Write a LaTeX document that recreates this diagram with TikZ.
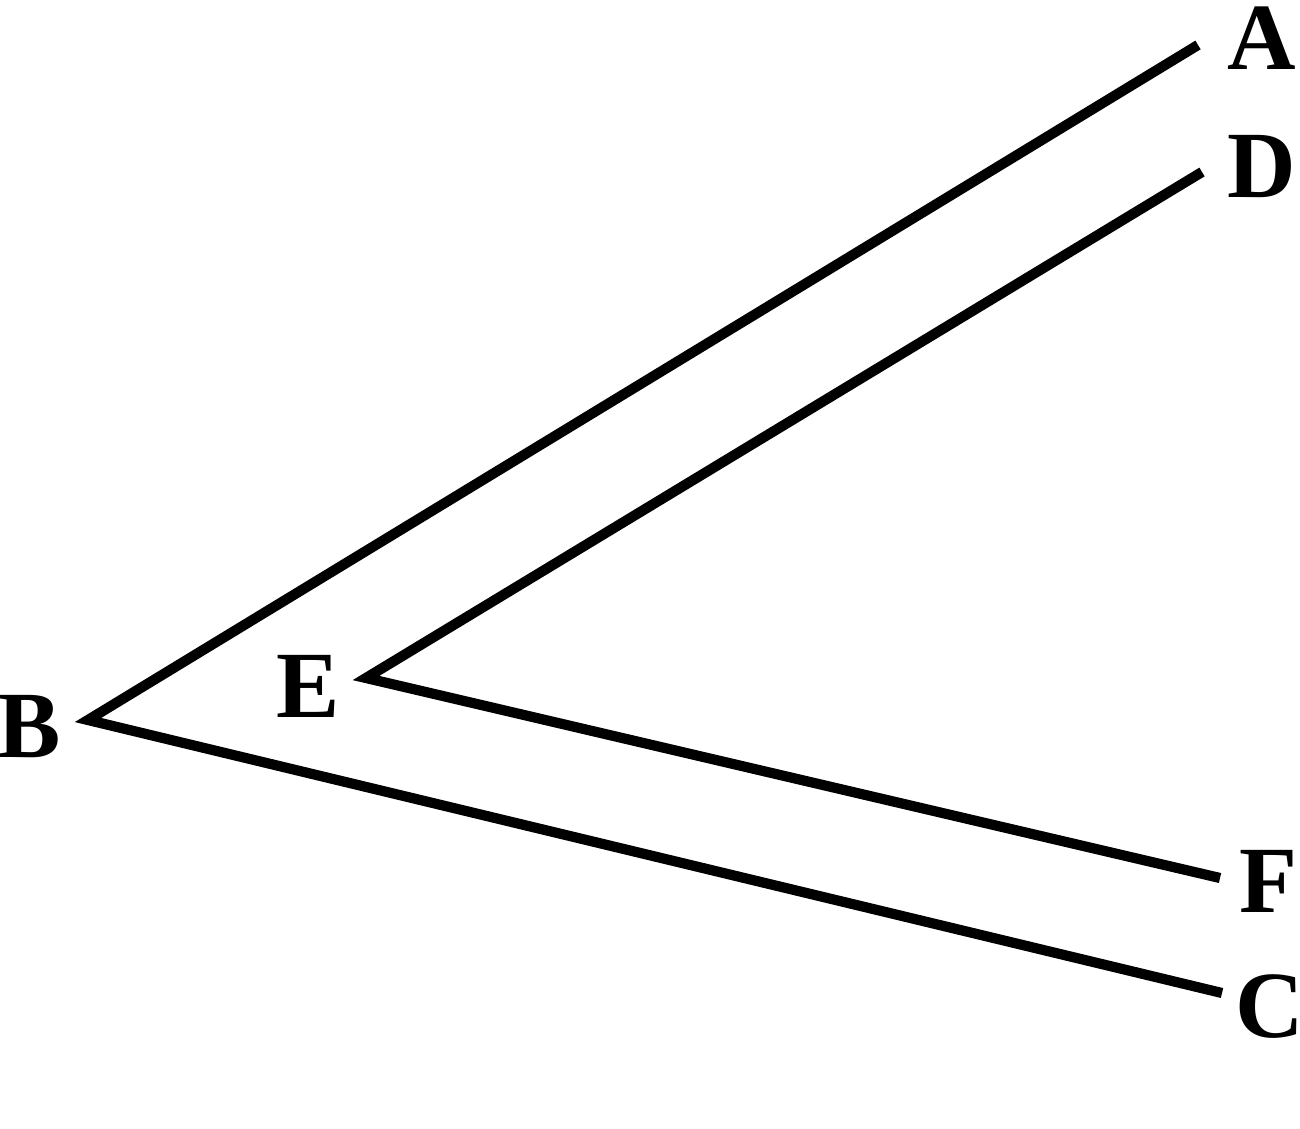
\documentclass[tikz,border=0pt]{standalone}
\usepackage{fontspec}
\newfontfamily\letterfont{Liberation Serif Bold}
\tikzset{every picture/.style={/utils/exec={\letterfont\fontsize{27}{27}\selectfont}}}
\tikzset{ray/.style={line width=2.9pt, line join=miter, black}}
\tikzset{letter/.style={inner sep=0pt, anchor=center}}

\begin{document}
\begin{tikzpicture}
    \useasboundingbox (0, 0) rectangle (13, 11.28);
    \coordinate (A) at (11.98, 10.83);
    \coordinate (B) at (0.88, 4.08);
    \coordinate (C) at (12.22, 1.35);
    \coordinate (D) at (12.02, 9.56);
    \coordinate (E) at (3.66, 4.50);
    \coordinate (F) at (12.20, 2.50);
    \draw [ray] (A) -- (B) -- (C);
    \draw [ray] (D) -- (E) -- (F);
    \node [letter] (lA) at (12.62, 10.90) {A};
    \node [letter] (lD) at (12.62, 9.61) {D};
    \node [letter] (lB) at (0.29, 4.01) {B};
    \node [letter] (lE) at (3.08, 4.42) {E};
    \node [letter] (lF) at (12.68, 2.47) {F};
    \node [letter] (lC) at (12.70, 1.21) {C};
\end{tikzpicture}
\end{document}
